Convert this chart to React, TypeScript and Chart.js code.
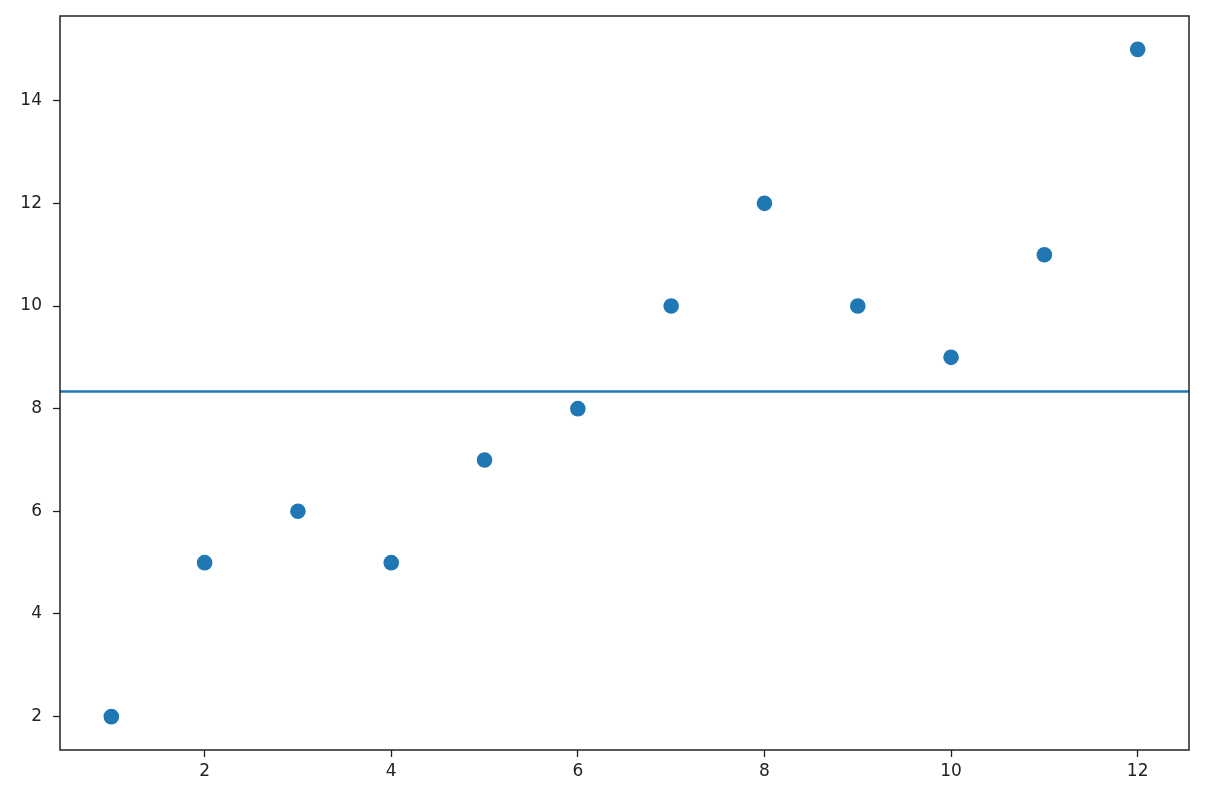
import React, { useEffect, useRef } from "react";
import { Chart, registerables } from "chart.js";

Chart.register(...registerables);

const xValues = [1, 2, 3, 4, 5, 6, 7, 8, 9, 10, 11, 12];
const yValues = [2, 5, 6, 5, 7, 8, 10, 12, 10, 9, 11, 15];
const xTicks = [2, 4, 6, 8, 10, 12];
const yTicks = [2, 4, 6, 8, 10, 12, 14];
const xMin = 0.45;
const xMax = 12.55;
const yMin = 1.35;
const yMax = 15.65;

const meanY = yValues.reduce((a, b) => a + b, 0) / yValues.length;

const framePlugin = {
  id: "frame",
  afterDraw(chart: any) {
    const { ctx, chartArea } = chart;
    ctx.save();
    ctx.strokeStyle = "#222";
    ctx.lineWidth = 1.5;
    ctx.strokeRect(chartArea.left, chartArea.top, chartArea.right - chartArea.left, chartArea.bottom - chartArea.top);
    ctx.restore();
  },
};

export default function App() {
  const ref = useRef<HTMLCanvasElement>(null);
  useEffect(() => {
    if (!ref.current) return;
    const chart = new Chart(ref.current, {
      type: "scatter",
      data: {
        datasets: [
          {
            type: "line",
            data: [
              { x: xMin, y: meanY },
              { x: xMax, y: meanY },
            ],
            borderColor: "#1f77b4",
            borderWidth: 2.5,
            pointRadius: 0,
            order: 2,
          } as any,
          {
            data: xValues.map((x, i) => ({ x, y: yValues[i] })),
            backgroundColor: "#1f77b4",
            borderColor: "#1f77b4",
            pointRadius: 7.8,
            borderWidth: 0,
            order: 1,
          },
        ],
      },
      plugins: [framePlugin],
      options: {
        animation: false,
        responsive: false,
        layout: { padding: { top: 16, right: 21, left: 0, bottom: 0 } },
        plugins: { legend: { display: false }, tooltip: { enabled: false } },
        scales: {
          x: {
            type: "linear",
            min: xMin,
            max: xMax,
            afterBuildTicks: (s: any) => {
              s.ticks = xTicks.map((v) => ({ value: v }));
            },
            afterFit: (s: any) => {
              s.height = 52;
              s.paddingLeft = 0;
              s.paddingRight = 0;
            },
            grid: { drawOnChartArea: false, drawTicks: true, tickLength: 7, tickColor: "#222", tickWidth: 1.3 },
            border: { display: false },
            ticks: { color: "#222", font: { family: "DejaVu Sans", size: 17 }, padding: 4, maxRotation: 0 },
          },
          y: {
            type: "linear",
            min: yMin,
            max: yMax,
            afterBuildTicks: (s: any) => {
              s.ticks = yTicks.map((v) => ({ value: v }));
            },
            afterFit: (s: any) => {
              s.width = 60;
              s.paddingTop = 0;
              s.paddingBottom = 0;
            },
            grid: { drawOnChartArea: false, drawTicks: true, tickLength: 7, tickColor: "#222", tickWidth: 1.3 },
            border: { display: false },
            ticks: { color: "#222", font: { family: "DejaVu Sans", size: 17 }, padding: 11 },
          },
        },
      },
    });
    return () => chart.destroy();
  }, []);
  return (
    <div style={{ position: "absolute", left: 0, top: 0, width: 1210, height: 802, background: "#fff" }}>
      <canvas ref={ref} width={1210} height={802} style={{ display: "block" }} />
    </div>
  );
}
